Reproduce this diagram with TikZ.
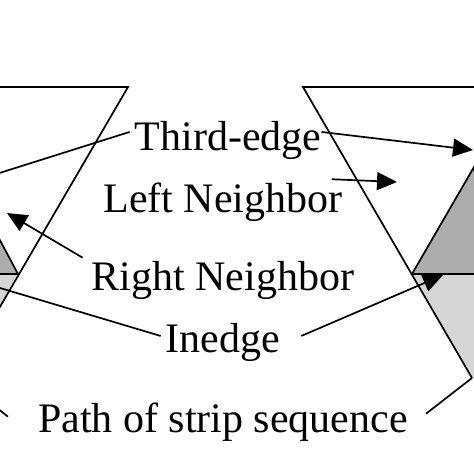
\documentclass[tikz,border=0pt]{standalone}
\usepackage{fontspec}
\setmainfont{Liberation Serif}
\usetikzlibrary{arrows.meta,calc}
\tikzset{
  lbl/.style={
    anchor=base, inner sep=0pt,
    font=\fontsize{42}{50}\selectfont
  },
  outline/.style={line width=1.7pt, line join=miter},
  darkfill/.style={fill=black!32},
  lightfill/.style={fill=black!16},
  pointer/.style={line width=1.7pt},
  arrowline/.style={line width=1.7pt, -{Triangle[length=20pt,width=18pt]}}
}

\begin{document}
\begin{tikzpicture}[x=1pt, y=-1pt]
  \useasboundingbox (0,0) rectangle (474,474);
  \clip (0,0) rectangle (474,474);

  % ==== LEFT STRIP (cut by the left border) ====
  \fill[lightfill] (-10,274) -- (18,274) -- (-10,324) -- cycle;
  \filldraw[darkfill, outline] (-6,229) -- (18,274) -- (-10,274) -- cycle;
  \draw[outline] (-10,87) -- (128,87) -- (-10,324);

  % ==== RIGHT STRIP (cut by the right border) ====
  \fill[lightfill] (412,274) -- (490,274) -- (490,380) -- (472,378) -- cycle;
  \filldraw[darkfill, outline] (474,167) -- (412,274) -- (490,274) -- cycle;
  \draw[outline] (490,87) -- (303,87) -- (472,378);

  % ==== LABELS ====
  \node[lbl] (third)  at (228,150) {Third-edge};
  \node[lbl] (leftn)  at (223,212) {Left Neighbor};
  \node[lbl] (rightn) at (223,290) {Right Neighbor};
  \node[lbl] (inedge) at (223,352) {Inedge};
  \node[lbl] (path)   at (223,432) {Path of strip sequence};

  % ==== free ends of the connectors ====
  \coordinate (thirdL)  at (-10,176);
  \coordinate (thirdR)  at (473,150);
  \coordinate (leftnR)  at (397,182);
  \coordinate (rightnL) at (7,213);
  \coordinate (inedgeL) at (-10,285);
  \coordinate (inedgeR) at (443,275);
  \coordinate (pathL)   at (-37,381);
  \coordinate (pathR)   at (472,378);

  % ==== CONNECTORS ====
  \draw[pointer]   ($(third.west)+(-5,-8)$) -- (thirdL);
  \draw[arrowline] ($(third.east)+(0,-8)$) -- (thirdR);
  \draw[arrowline] ($(leftn.north east)+(-11,-3)$) -- (leftnR);
  \draw[arrowline] ($(rightn.north west)+(-9,-3)$) -- (rightnL);
  \draw[pointer]   ($(inedge.west)+(-5,-6)$) -- (inedgeL);
  \draw[arrowline] ($(inedge.east)+(21,-6)$) -- (inedgeR);
  \draw[pointer]   ($(path.west)+(-30,-5)$) -- (pathL);
  \draw[pointer]   ($(path.east)+(18,-8)$) -- (pathR);
\end{tikzpicture}
\end{document}
